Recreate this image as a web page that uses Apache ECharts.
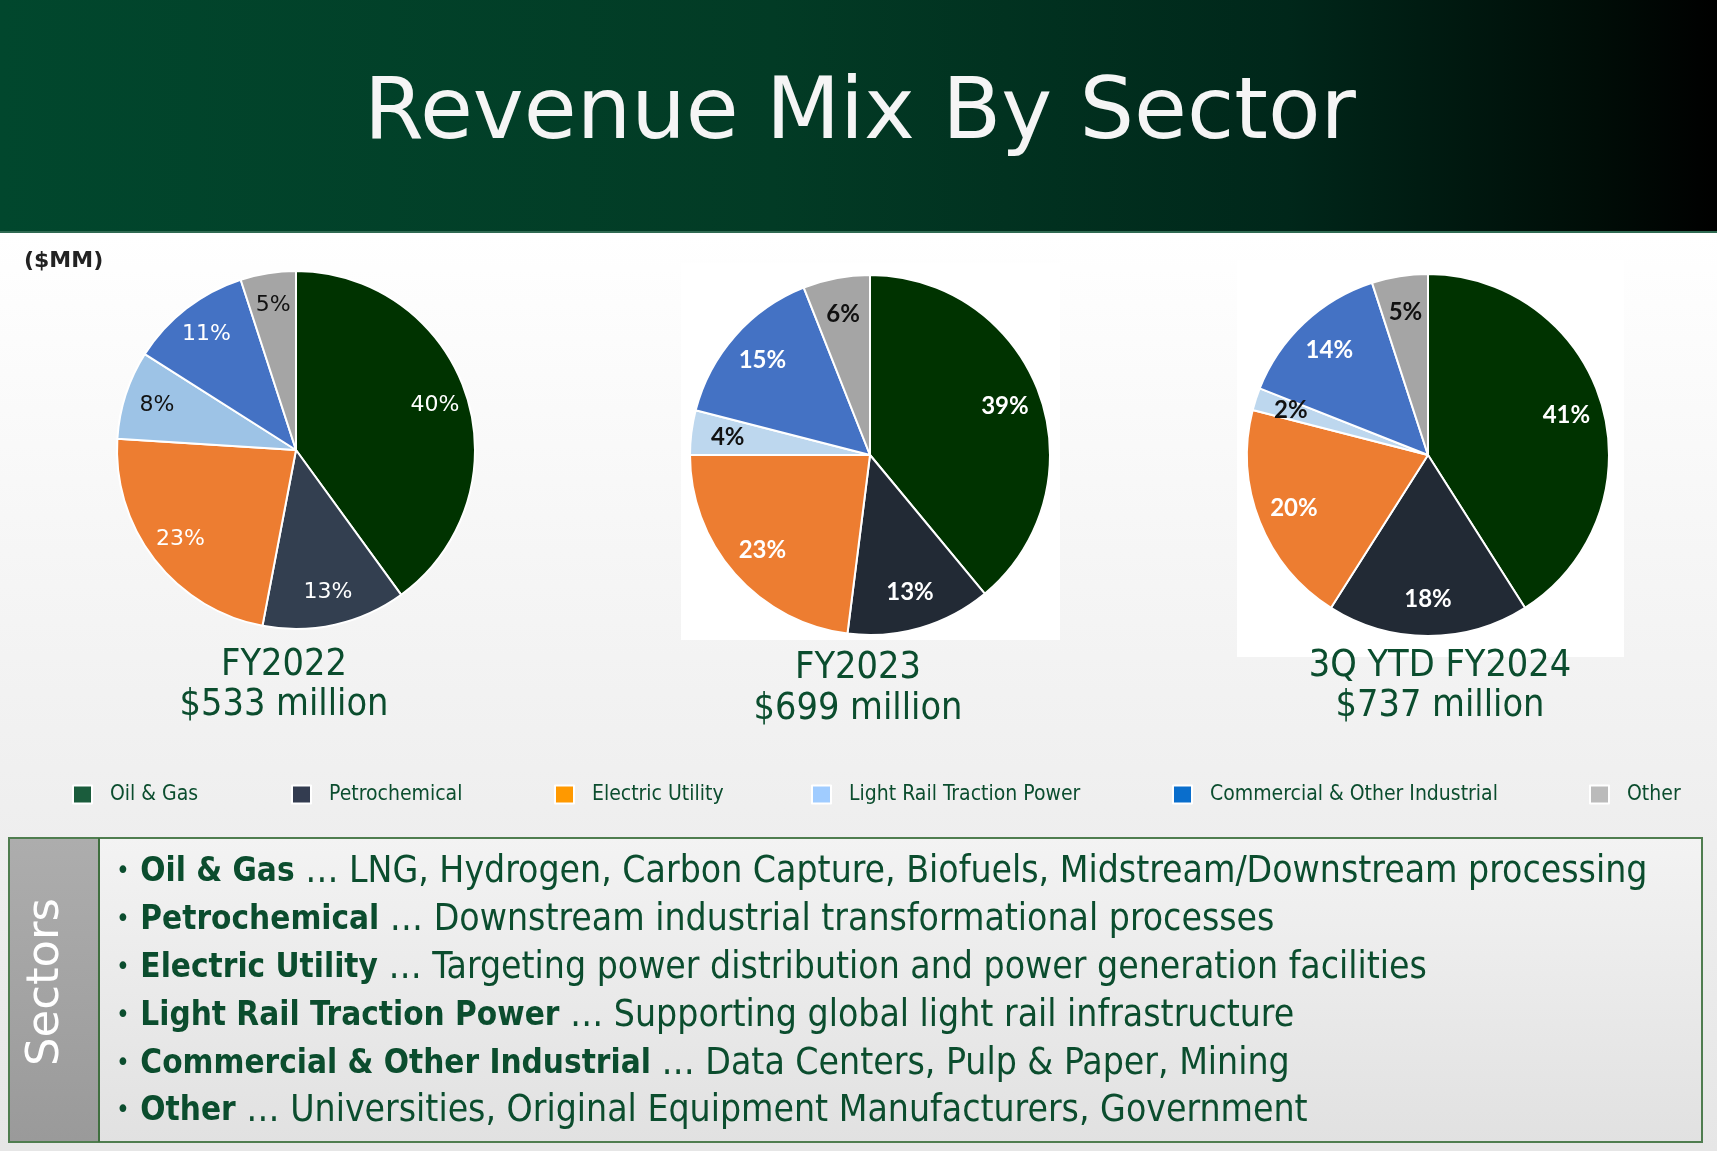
<!DOCTYPE html>
<html><head><meta charset="utf-8">
<script src="https://cdn.jsdelivr.net/npm/echarts@6/dist/echarts.min.js"></script>
<style>html,body{margin:0;padding:0;background:#fff;overflow:hidden}#c{width:1717px;height:1151px}</style>
</head><body><div id="c"></div>
<script>
// ---------------- data ----------------
const sectors = ['Oil & Gas', 'Petrochemical', 'Electric Utility', 'Light Rail Traction Power', 'Commercial & Other Industrial', 'Other'];
const fy2022 = [40, 13, 23, 8, 11, 5];
const fy2023 = [39, 13, 23, 4, 15, 6];
const fy2024 = [41, 18, 20, 2, 14, 5];
const pieTitles = ['FY2022', 'FY2023', '3Q YTD FY2024'];
const pieTotals = ['$533 million', '$699 million', '$737 million'];
const sectorNotes = [
  'LNG, Hydrogen, Carbon Capture, Biofuels, Midstream/Downstream processing',
  'Downstream industrial transformational processes',
  'Targeting power distribution and power generation facilities',
  'Supporting global light rail infrastructure',
  'Data Centers, Pulp & Paper, Mining',
  'Universities, Original Equipment Manufacturers, Government'
];
const unitLabel = '($MM)';
const pageTitle = 'Revenue Mix By Sector';
const boxLabel = 'Sectors';

// ---------------- styles ----------------
const colorsA = ['#003300', '#333f50', '#ed7d31', '#9dc3e6', '#4472c4', '#a5a5a5'];
const colorsB = ['#003300', '#222a35', '#ed7d31', '#bdd7ee', '#4472c4', '#a5a5a5'];
const legendColors = ['#1a5c3c', '#333c50', '#ff9900', '#a0ccff', '#0a6ecc', '#bbbbbb'];
const labelDark = [false, false, false, true, false, true];
const legendX = [72, 291, 554, 811, 1172, 1589];
const green = '#0b4d2e';
const condensed = '"DejaVu Sans Condensed", "DejaVu Sans", sans-serif';

const pies = [
  { values: fy2022, center: [296, 450], r: 179, inner: 0.6, colors: colorsA, font: '"DejaVu Sans", sans-serif', weight: 'normal', size: 22 },
  { values: fy2023, center: [870, 455], r: 180, inner: 0.56, colors: colorsB, font: 'Lato, sans-serif', weight: 'bold', size: 24 },
  { values: fy2024, center: [1428, 455], r: 181, inner: 0.56, colors: colorsB, font: 'Lato, sans-serif', weight: 'bold', size: 24 }
];
const captions = [
  { x: 284, y1: 665, y2: 705 },
  { x: 858, y1: 668, y2: 709 },
  { x: 1440, y1: 666, y2: 706 }
];
const lineY = [872, 920, 968, 1016, 1064, 1111];

const series = [];
pies.forEach((p) => {
  series.push({
    type: 'pie', center: p.center, radius: [0, p.r], startAngle: 90, clockwise: true,
    animation: false, label: { show: false }, labelLine: { show: false },
    emphasis: { scale: false },
    itemStyle: { borderColor: '#ffffff', borderWidth: 2 },
    data: sectors.map((n, i) => ({ name: n, value: p.values[i], itemStyle: { color: p.colors[i] } }))
  });
  series.push({
    type: 'pie', center: p.center, radius: [p.r * p.inner, p.r], startAngle: 90, clockwise: true,
    animation: false, silent: true, legendHoverLink: false,
    itemStyle: { color: 'rgba(0,0,0,0)', borderWidth: 0 },
    labelLine: { show: false },
    label: { show: true, position: 'inside', formatter: '{c}%', fontFamily: p.font, fontWeight: p.weight, fontSize: p.size },
    data: sectors.map((n, i) => ({ name: n, value: p.values[i], label: { color: labelDark[i] ? '#111111' : '#ffffff' } }))
  });
});

const legends = sectors.map((n, i) => ({
  data: [{ name: n, itemStyle: { color: legendColors[i] } }],
  left: legendX[i], top: 784, padding: 0, itemWidth: 19, itemHeight: 18, icon: 'rect',
  selectedMode: false,
  textStyle: { color: green, fontSize: 21, fontFamily: condensed, padding: [0, 0, 0, 13] }
}));

const graphics = [
  // page background
  { type: 'rect', shape: { x: 0, y: 233, width: 1717, height: 918 }, z: -10,
    style: { fill: new echarts.graphic.LinearGradient(0, 0, 0, 1, [
      { offset: 0, color: '#ffffff' }, { offset: 0.5, color: '#f2f2f2' }, { offset: 1, color: '#e6e6e6' }]) } },
  // header
  { type: 'rect', shape: { x: 0, y: 0, width: 1717, height: 233 }, z: -9,
    style: { fill: new echarts.graphic.LinearGradient(0, 0, 1, 0, [
      { offset: 0, color: '#01472d' }, { offset: 0.45, color: '#023b25' }, { offset: 0.75, color: '#00271a' },
      { offset: 0.93, color: '#000d07' }, { offset: 1, color: '#000000' }]) } },
  { type: 'rect', shape: { x: 0, y: 231, width: 1717, height: 2 }, z: -8, style: { fill: '#2f6a52' } },
  // white panes behind pies 2 and 3
  { type: 'rect', shape: { x: 681, y: 263, width: 379, height: 377 }, z: -8, style: { fill: '#ffffff' } },
  { type: 'rect', shape: { x: 1237, y: 260, width: 387, height: 397 }, z: -8, style: { fill: '#ffffff' } },
  // title
  { type: 'text', x: 860, y: 116, z: 10,
    style: { text: pageTitle, fill: '#f5f5f5', fontSize: 86, fontFamily: '"DejaVu Sans", sans-serif', align: 'center', verticalAlign: 'middle' } },
  { type: 'text', x: 24, y: 261, z: 10,
    style: { text: unitLabel, fill: '#222222', fontSize: 22, fontWeight: 'bold', fontFamily: '"DejaVu Sans", sans-serif', align: 'left', verticalAlign: 'middle' } },
  // sectors box
  { type: 'rect', shape: { x: 9, y: 838, width: 1693, height: 304 }, z: -7,
    style: { fill: new echarts.graphic.LinearGradient(0, 0, 0, 1, [
      { offset: 0, color: '#f3f3f3' }, { offset: 1, color: '#e1e1e1' }]), stroke: '#4f7d4f', lineWidth: 2 } },
  { type: 'rect', shape: { x: 10, y: 839, width: 89, height: 302 }, z: -6,
    style: { fill: new echarts.graphic.LinearGradient(0, 0, 0, 1, [
      { offset: 0, color: '#adadad' }, { offset: 1, color: '#9a9a9a' }]) } },
  { type: 'line', shape: { x1: 99, y1: 838, x2: 99, y2: 1142 }, z: -5, style: { stroke: '#3f6f3f', lineWidth: 2 } },
  { type: 'text', x: 46, y: 982, rotation: Math.PI / 2, z: 10,
    style: { text: boxLabel, fill: '#ffffff', fontSize: 45, fontFamily: '"DejaVu Sans", sans-serif', align: 'center', verticalAlign: 'middle' } }
];

captions.forEach((c, i) => {
  graphics.push({ type: 'text', x: c.x, y: c.y1, z: 10,
    style: { text: pieTitles[i], fill: green, fontSize: 37.5, fontFamily: condensed, align: 'center', verticalAlign: 'middle' } });
  graphics.push({ type: 'text', x: c.x, y: c.y2, z: 10,
    style: { text: pieTotals[i], fill: green, fontSize: 37.5, fontFamily: condensed, align: 'center', verticalAlign: 'middle' } });
});

sectors.forEach((s, i) => {
  graphics.push({ type: 'text', x: 116, y: lineY[i], z: 10,
    style: {
      text: '{p|•} {b|' + s + '} … ' + sectorNotes[i],
      fill: green, fontSize: 37, fontFamily: condensed, align: 'left', verticalAlign: 'middle',
      rich: {
        p: { fontSize: 26, fontFamily: condensed, fill: green },
        b: { fontWeight: 'bold', fontSize: 33, fontFamily: condensed, fill: green }
      }
    } });
});

const chart = echarts.init(document.getElementById('c'), null, { renderer: 'canvas', width: 1717, height: 1151 });
chart.setOption({
  animation: false,
  backgroundColor: '#ffffff',
  legend: legends,
  series: series,
  graphic: { elements: graphics }
});
</script>
</body></html>
